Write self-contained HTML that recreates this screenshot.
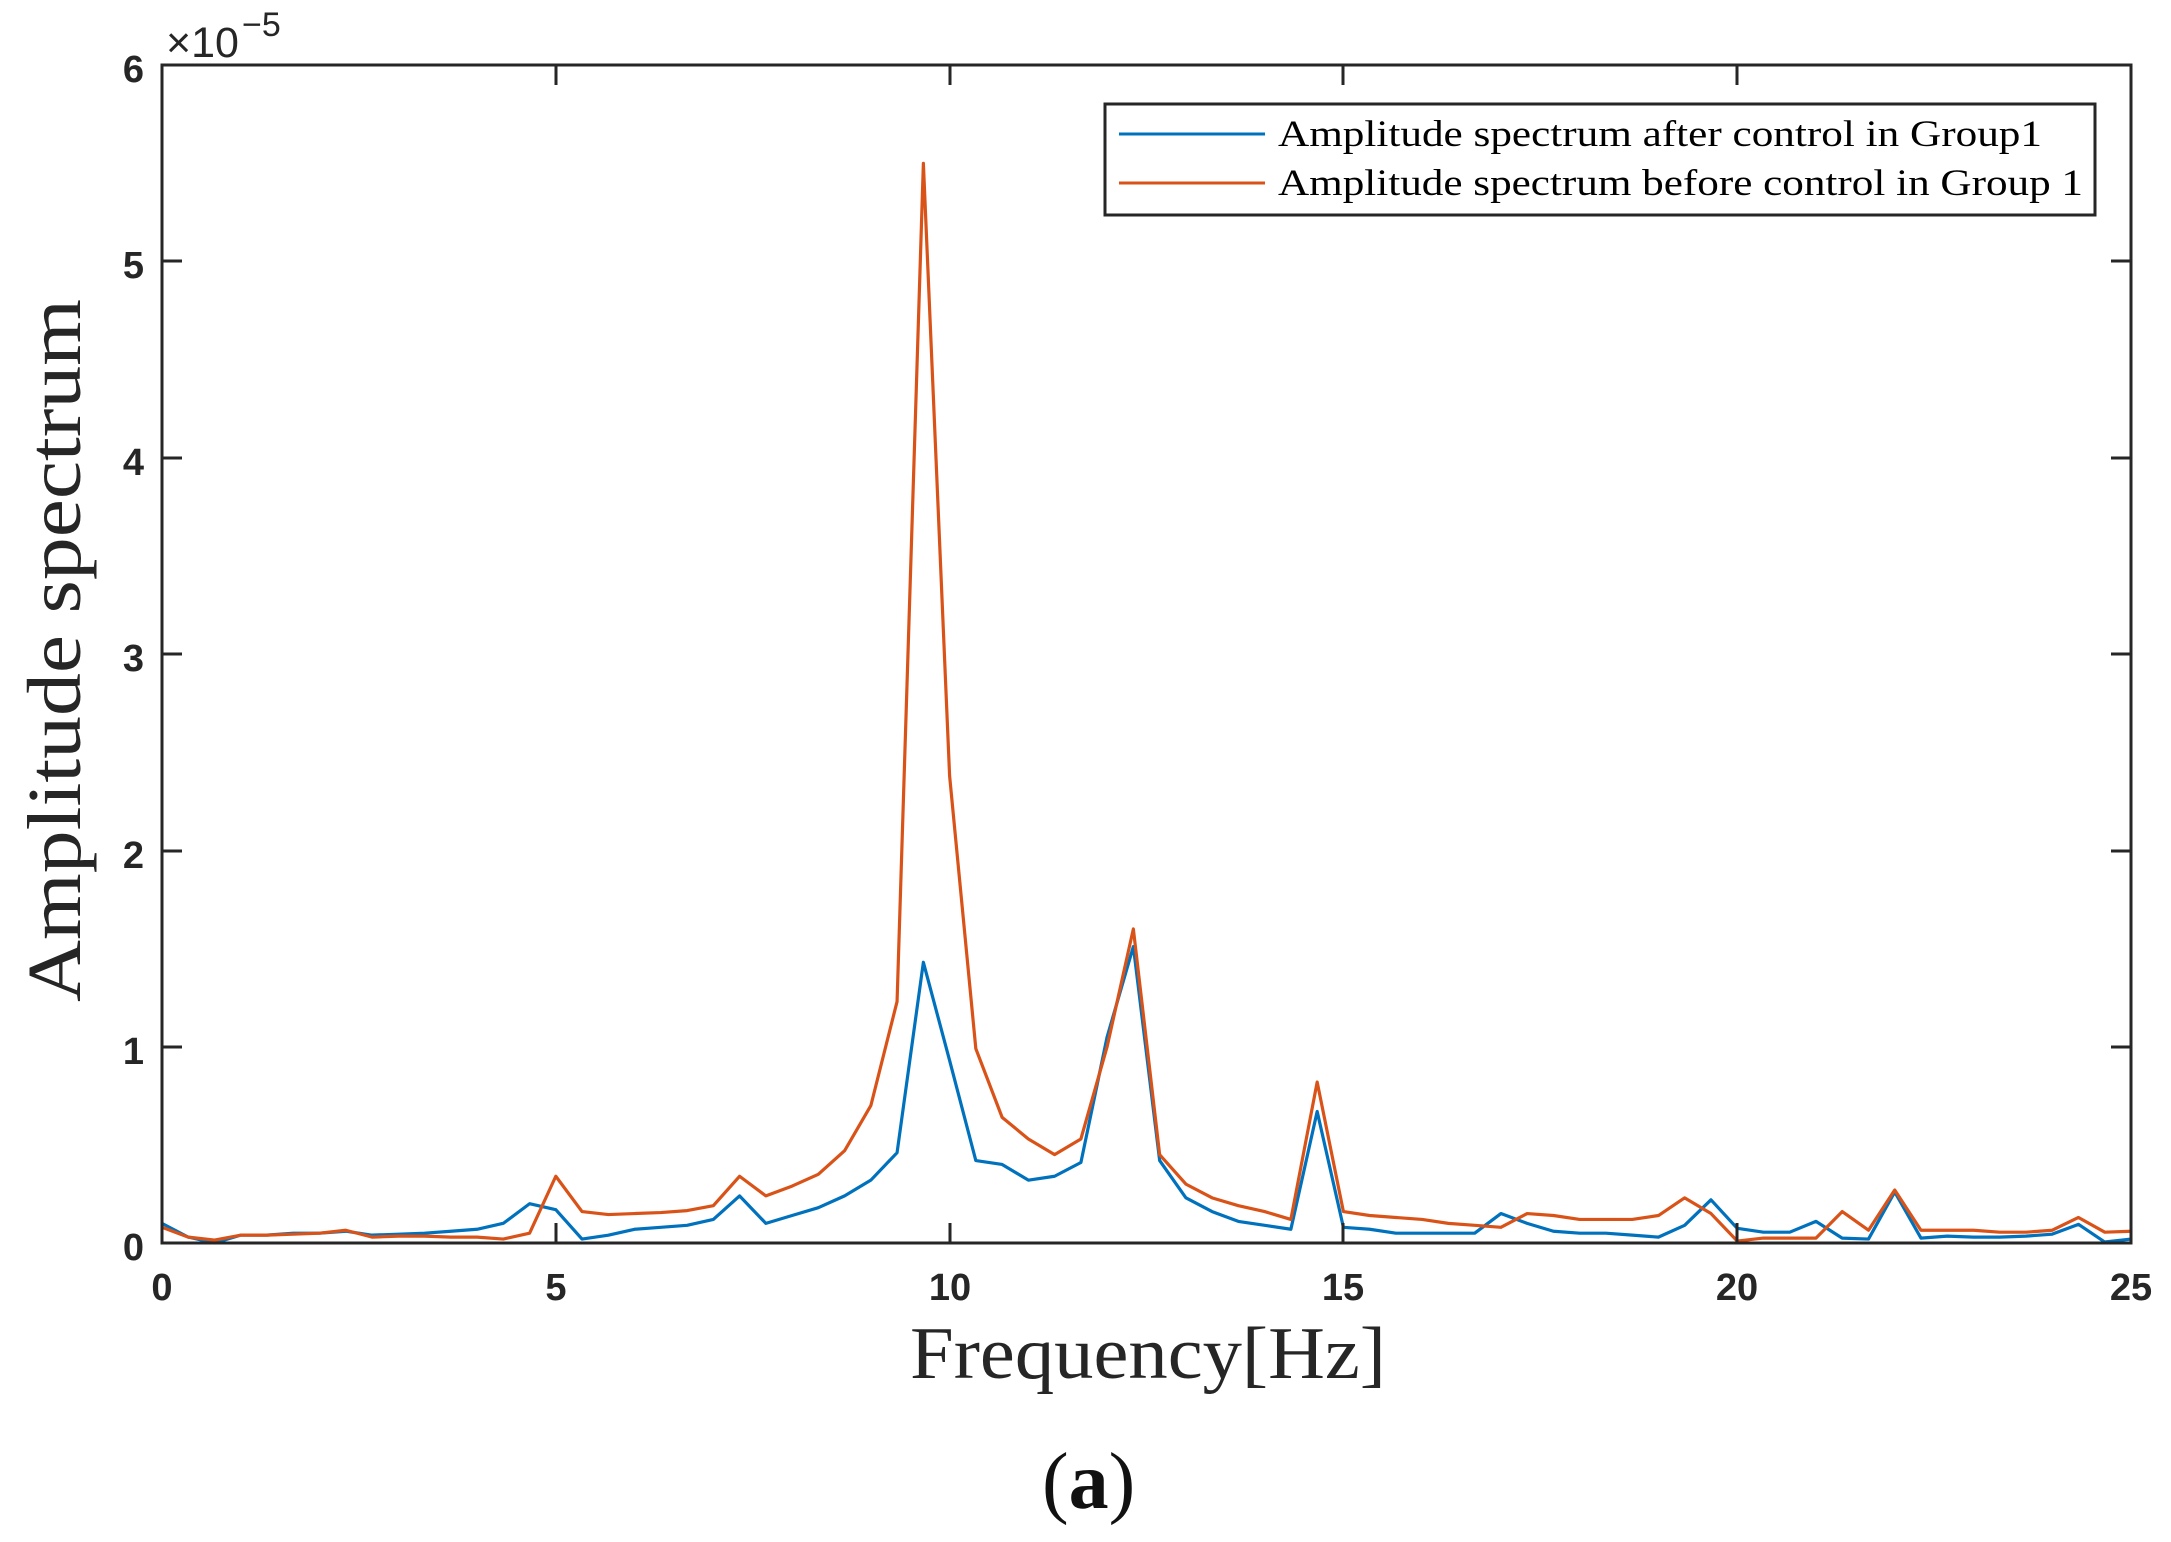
<!DOCTYPE html>
<html><head><meta charset="utf-8"><style>html,body{margin:0;padding:0;background:#fff}svg{display:block}</style></head>
<body>
<svg width="2171" height="1542" viewBox="0 0 2171 1542" xmlns="http://www.w3.org/2000/svg">
<rect width="2171" height="1542" fill="#fff"/>
<g transform="translate(162,1243) scale(78.76,-196.3)" fill="none" stroke-width="3.2" stroke-linejoin="round">
<polyline vector-effect="non-scaling-stroke" stroke="#0072BD" points="0,0.1 0.333,0.03 0.667,0.0 1,0.04 1.333,0.04 1.667,0.05 2,0.05 2.333,0.06 2.667,0.04 3,0.045 3.333,0.05 3.667,0.06 4,0.07 4.333,0.1 4.667,0.2 5,0.17 5.333,0.02 5.667,0.04 6,0.07 6.333,0.08 6.667,0.09 7,0.12 7.333,0.24 7.667,0.1 8,0.14 8.333,0.18 8.667,0.24 9,0.32 9.333,0.46 9.667,1.43 10,0.93 10.333,0.42 10.667,0.4 11,0.32 11.333,0.34 11.667,0.41 12,1.05 12.333,1.51 12.667,0.42 13,0.23 13.333,0.16 13.667,0.11 14,0.09 14.333,0.07 14.667,0.67 15,0.08 15.333,0.07 15.667,0.05 16,0.05 16.333,0.05 16.667,0.05 17,0.15 17.333,0.1 17.667,0.06 18,0.05 18.333,0.05 18.667,0.04 19,0.03 19.333,0.09 19.667,0.22 20,0.075 20.333,0.055 20.667,0.055 21,0.11 21.333,0.025 21.667,0.02 22,0.26 22.333,0.025 22.667,0.035 23,0.03 23.333,0.03 23.667,0.035 24,0.045 24.333,0.095 24.667,0.005 25,0.02"/>
<polyline vector-effect="non-scaling-stroke" stroke="#D95319" points="0,0.08 0.333,0.03 0.667,0.015 1,0.04 1.333,0.04 1.667,0.045 2,0.05 2.333,0.065 2.667,0.03 3,0.035 3.333,0.035 3.667,0.03 4,0.03 4.333,0.02 4.667,0.05 5,0.34 5.333,0.16 5.667,0.145 6,0.15 6.333,0.155 6.667,0.165 7,0.19 7.333,0.34 7.667,0.24 8,0.29 8.333,0.35 8.667,0.47 9,0.7 9.333,1.23 9.667,5.5 10,2.38 10.333,0.99 10.667,0.64 11,0.53 11.333,0.45 11.667,0.53 12,1.0 12.333,1.6 12.667,0.45 13,0.3 13.333,0.23 13.667,0.19 14,0.16 14.333,0.12 14.667,0.82 15,0.16 15.333,0.14 15.667,0.13 16,0.12 16.333,0.1 16.667,0.09 17,0.08 17.333,0.15 17.667,0.14 18,0.12 18.333,0.12 18.667,0.12 19,0.14 19.333,0.23 19.667,0.15 20,0.01 20.333,0.025 20.667,0.025 21,0.025 21.333,0.16 21.667,0.065 22,0.27 22.333,0.065 22.667,0.065 23,0.065 23.333,0.055 23.667,0.055 24,0.065 24.333,0.13 24.667,0.055 25,0.06"/>
</g>
<g stroke="#262626" stroke-width="3" fill="none">
<rect x="162" y="65" width="1969" height="1178"/>
<path d="M162,261h20M162,458h20M162,654h20M162,851h20M162,1047h20M2131,261h-20M2131,458h-20M2131,654h-20M2131,851h-20M2131,1047h-20M556,1243v-20M950,1243v-20M1343,1243v-20M1737,1243v-20M556,65v20M950,65v20M1343,65v20M1737,65v20"/>
</g>
<g font-family="Liberation Sans, sans-serif" font-weight="bold" font-size="38" fill="#262626" text-anchor="end">
<text x="144" y="82">6</text><text x="144" y="278">5</text><text x="144" y="475">4</text><text x="144" y="671">3</text><text x="144" y="868">2</text><text x="144" y="1064">1</text><text x="144" y="1260">0</text>
</g>
<g font-family="Liberation Sans, sans-serif" font-weight="bold" font-size="38" fill="#262626" text-anchor="middle">
<text x="162" y="1300">0</text><text x="556" y="1300">5</text><text x="950" y="1300">10</text><text x="1343" y="1300">15</text><text x="1737" y="1300">20</text><text x="2131" y="1300">25</text>
</g>
<text x="166" y="57" font-family="Liberation Sans, sans-serif" font-size="43" fill="#262626">×10</text>
<text x="242" y="36" font-family="Liberation Sans, sans-serif" font-size="34" fill="#262626">−5</text>
<text transform="translate(80,1002) rotate(-90)" font-family="Liberation Serif, serif" font-size="76" fill="#262626" textLength="703" lengthAdjust="spacingAndGlyphs">Amplitude spectrum</text>
<text x="910" y="1378" font-family="Liberation Serif, serif" font-size="74" fill="#262626" textLength="476" lengthAdjust="spacingAndGlyphs">Frequency[Hz]</text>
<text x="1042" y="1508" font-family="Liberation Serif, serif" font-size="80" fill="#111"><tspan>(</tspan><tspan font-weight="bold">a</tspan><tspan>)</tspan></text>
<rect x="1105" y="104" width="990" height="111" fill="#fff" stroke="#262626" stroke-width="3"/>
<path d="M1119,134h146" stroke="#0072BD" stroke-width="3"/>
<path d="M1119,183h146" stroke="#D95319" stroke-width="3"/>
<g font-family="Liberation Serif, serif" font-size="37" fill="#000">
<text x="1278" y="146" textLength="764" lengthAdjust="spacingAndGlyphs">Amplitude spectrum after control in Group1</text>
<text x="1278" y="195" textLength="805" lengthAdjust="spacingAndGlyphs">Amplitude spectrum before control in Group 1</text>
</g>
</svg>
</body></html>
